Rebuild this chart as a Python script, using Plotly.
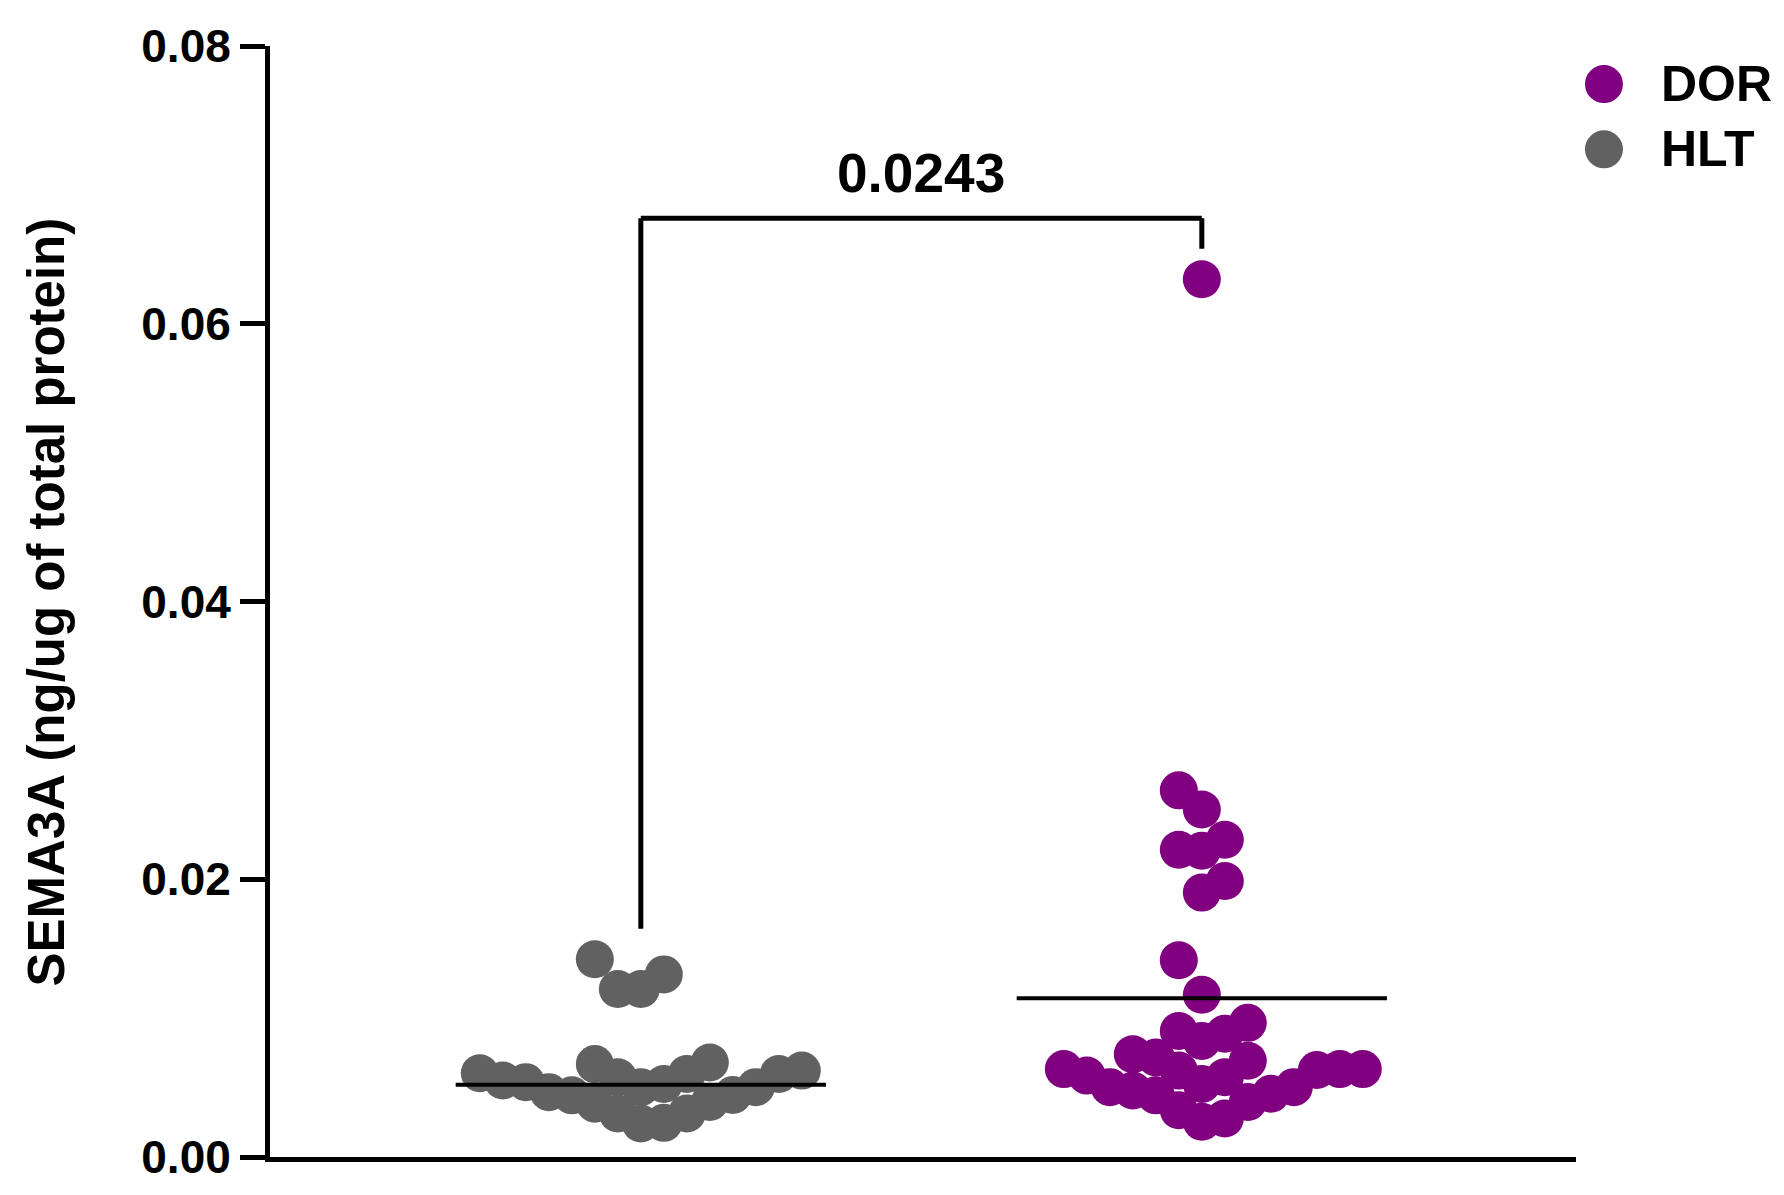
import plotly.graph_objects as go

# ---- data ----
groups = ["HLT", "DOR"]
hlt_values = [
    0.01424, 0.01315, 0.01210, 0.01210,
    0.00603, 0.00622, 0.00396, 0.00526, 0.00444, 0.00503, 0.00539, 0.00246,
    0.00503, 0.00598, 0.00313, 0.00574, 0.00241, 0.00446, 0.00467, 0.00598,
    0.00313, 0.00384, 0.00669, 0.00681, 0.00551,
]
dor_values = [
    0.06320,
    0.02640, 0.02502, 0.02284, 0.02212, 0.02205, 0.01987, 0.01904, 0.01417, 0.01168,
    0.00626, 0.00633, 0.00574, 0.00693, 0.00888, 0.00740, 0.00396, 0.00503,
    0.00455, 0.00503, 0.00526, 0.00254, 0.00479, 0.00907, 0.00717, 0.00337,
    0.00836, 0.00444, 0.00966, 0.00277, 0.00633, 0.00586, 0.00633, 0.00622,
]
group_lines = [0.0052, 0.01144]   # horizontal line per group
p_label = "0.0243"
y_ticks = [0.0, 0.02, 0.04, 0.06, 0.08]
y_title = "SEMA3A (ng/ug of total protein)"

colors = {"HLT": "#616161", "DOR": "#800080"}
FONT = "Liberation Sans, Arial, sans-serif"


def swarm_offsets(values, col_step, min_dy):
    """Column beeswarm: each point goes in the column nearest the centre
    that has no other point closer than min_dy vertically."""
    order = sorted(range(len(values)), key=lambda i: values[i])
    cols = {}
    offs = [0.0] * len(values)
    right = left = 0
    for i in order:
        v = values[i]
        step = 0
        while True:
            if step == 0:
                cands = [0]
            else:
                cands = [step, -step] if right <= left else [-step, step]
            placed = False
            for k in cands:
                if all(abs(v - u) >= min_dy for u in cols.get(k, [])):
                    cols.setdefault(k, []).append(v)
                    offs[i] = k * col_step
                    if k > 0:
                        right += 1
                    elif k < 0:
                        left += 1
                    placed = True
                    break
            if placed:
                break
            step += 1
    return offs


data = {"HLT": hlt_values, "DOR": dor_values}
fig = go.Figure()

for gi, g in enumerate(groups):
    vals = data[g]
    offs = swarm_offsets(vals, 0.041, 0.0026)
    fig.add_trace(go.Scatter(
        x=[gi + o for o in offs], y=vals, mode="markers", name=g,
        marker=dict(size=38, color=colors[g], line=dict(width=0)),
        showlegend=False,
    ))
    fig.add_shape(type="line", xref="x", yref="y",
                  x0=gi - 0.33, x1=gi + 0.33, y0=group_lines[gi], y1=group_lines[gi],
                  line=dict(color="black", width=4))

# significance bracket
hlt_top = max(hlt_values) + 0.0022
dor_top = max(dor_values) + 0.0022
bar_y = max(dor_values) + 0.0044
for x0, y0, x1, y1 in [(0, hlt_top, 0, bar_y), (0, bar_y, 1, bar_y), (1, bar_y, 1, dor_top)]:
    fig.add_shape(type="line", xref="x", yref="y", x0=x0, y0=y0, x1=x1, y1=y1,
                  line=dict(color="black", width=5))
fig.add_annotation(x=0.5, y=bar_y, xref="x", yref="y", text=p_label, showarrow=False,
                   yanchor="bottom", yshift=12,
                   font=dict(family=FONT, size=55, color="black", weight="bold"))

# legend drawn by hand (plotly caps legend marker size)
for j, g in enumerate(["DOR", "HLT"]):
    ly = 0.9657 - j * 0.0587
    fig.add_shape(type="circle", xref="paper", yref="paper",
                  xsizemode="pixel", ysizemode="pixel", xanchor=1.0214, yanchor=ly,
                  x0=-19, x1=19, y0=-19, y1=19,
                  fillcolor=colors[g], line=dict(width=0))
    fig.add_annotation(x=1.0635, y=ly, xref="paper", yref="paper", text=g, showarrow=False,
                       xanchor="left", yanchor="middle",
                       font=dict(family=FONT, size=50, color="black", weight="bold"))

# y axis title
fig.add_annotation(x=-0.1708, y=0.5, xref="paper", yref="paper", text=y_title,
                   showarrow=False, textangle=-90, xanchor="center", yanchor="middle",
                   font=dict(family=FONT, size=51, color="black", weight="bold"))

# page body has an 8px margin, so the figure is 8px smaller than the window
fig.update_layout(
    width=1776, height=1187,
    margin=dict(l=262, r=208, t=29, b=35),
    plot_bgcolor="white", paper_bgcolor="white",
    showlegend=False,
    xaxis=dict(range=[-0.661, 1.667], showline=True, linecolor="black", linewidth=5,
               showticklabels=False, ticks="", showgrid=False, zeroline=False),
    yaxis=dict(range=[0, 0.08], tickvals=y_ticks, tickformat=".2f",
               showline=True, linecolor="black", linewidth=5,
               ticks="outside", ticklen=25, tickwidth=5, tickcolor="black",
               showgrid=False, zeroline=False,
               tickfont=dict(family=FONT, size=46, color="black", weight="bold")),
)

fig.write_html("out.html")
